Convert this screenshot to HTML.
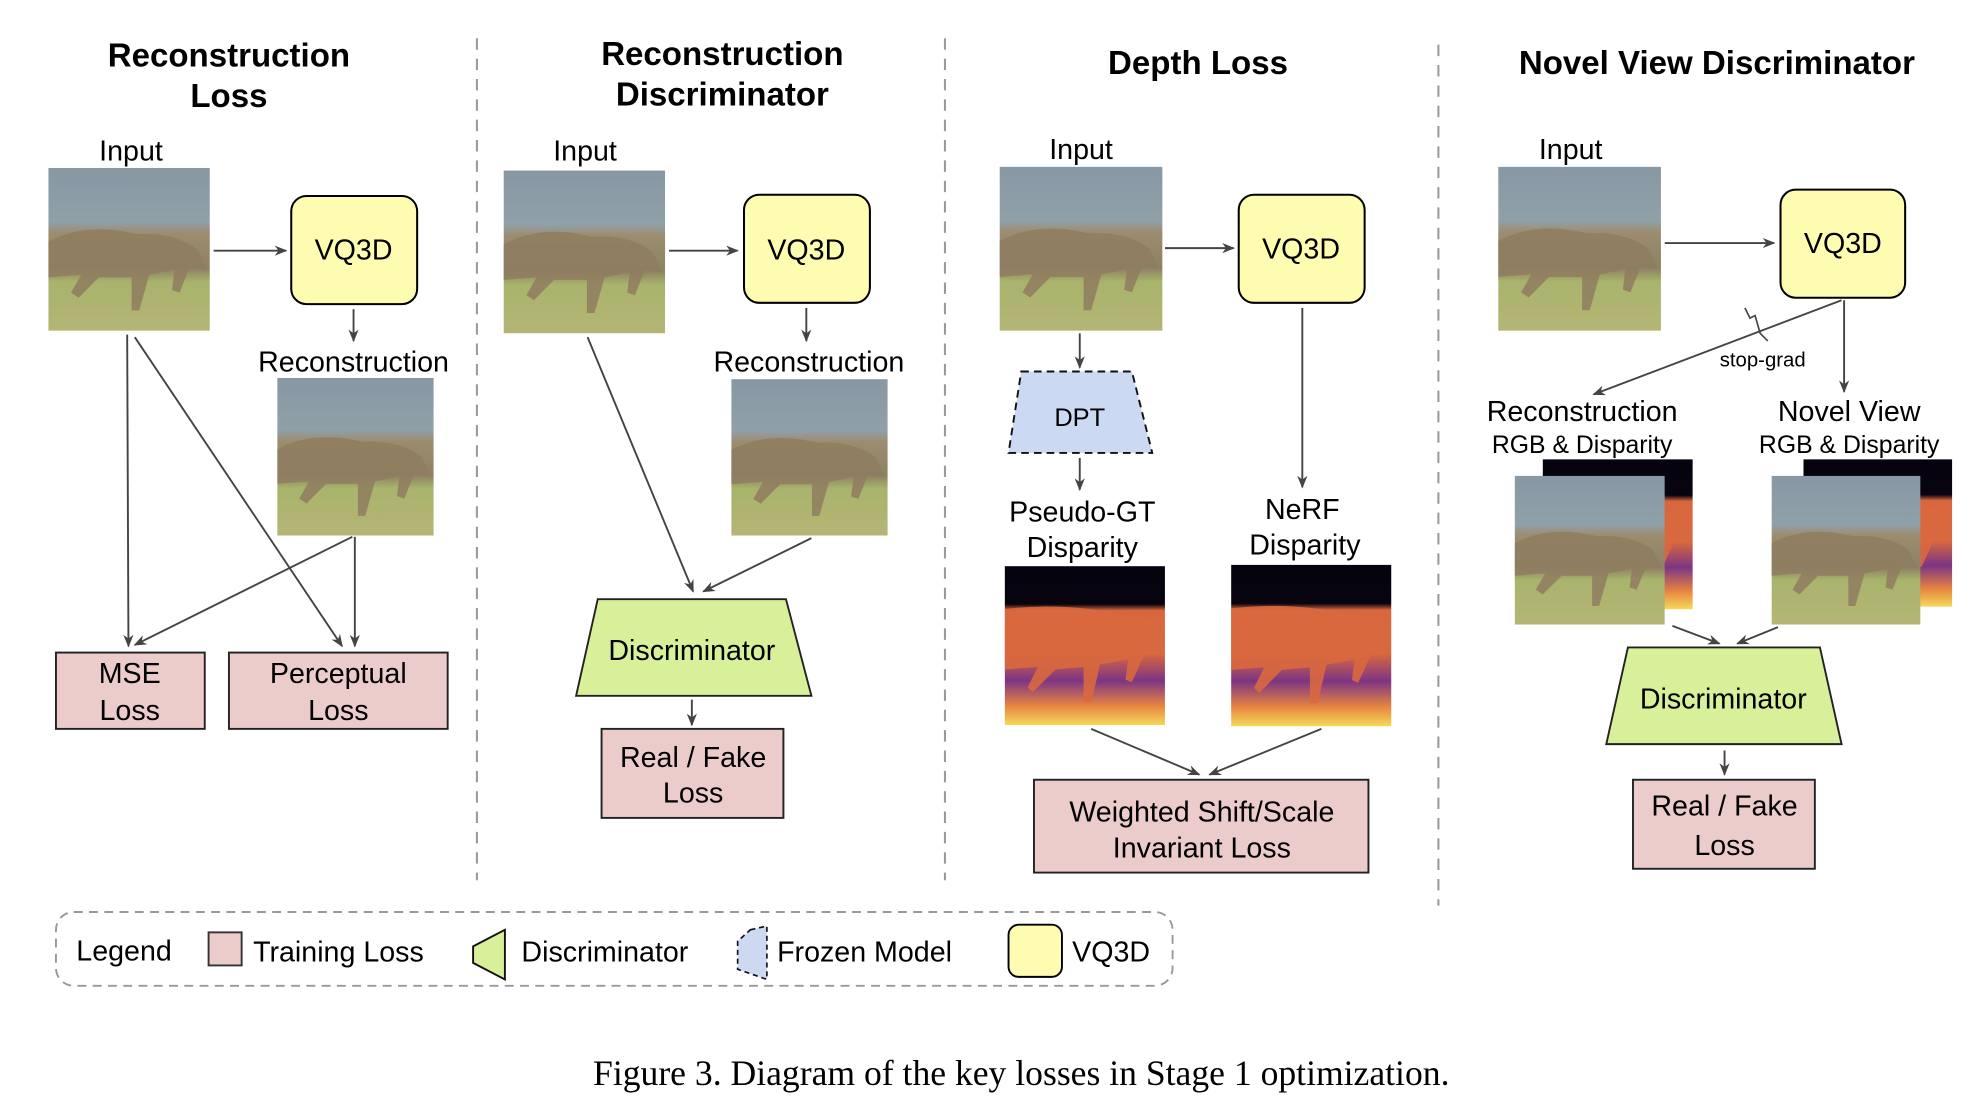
<!DOCTYPE html>
<html><head><meta charset="utf-8"><style>
html,body{margin:0;padding:0;background:#fff;}
svg{display:block;}
text{font-family:"Liberation Sans",sans-serif;fill:#000;}
</style></head><body>
<svg width="1984" height="1108" viewBox="0 0 1560 871" xmlns="http://www.w3.org/2000/svg">
<defs>
<marker id="ah" markerWidth="10" markerHeight="10" refX="9" refY="5" orient="auto" markerUnits="userSpaceOnUse">
<path d="M0,1 L10,5 L0,9 L3,5 z" fill="#444"/></marker>
<linearGradient id="wolf" x1="0" y1="0" x2="0" y2="1">
<stop offset="0" stop-color="#8798a4"/><stop offset="0.33" stop-color="#8fa0a8"/>
<stop offset="0.4" stop-color="#9d8c70"/><stop offset="0.62" stop-color="#8e8262"/>
<stop offset="0.7" stop-color="#a8b46c"/><stop offset="1" stop-color="#b5b575"/></linearGradient>
<linearGradient id="disp" x1="0" y1="0" x2="0" y2="1">
<stop offset="0" stop-color="#05030f"/><stop offset="0.24" stop-color="#08040f"/>
<stop offset="0.28" stop-color="#d8673e"/><stop offset="0.55" stop-color="#d8683f"/>
<stop offset="0.72" stop-color="#7c3584"/><stop offset="0.88" stop-color="#e7853f"/>
<stop offset="1" stop-color="#f6d95a"/></linearGradient>
<symbol id="wimg" viewBox="0 0 128 128" preserveAspectRatio="none">
<rect width="128" height="128" fill="url(#wolf)"/>
<path d="M0,58 Q30,42 70,52 Q100,50 118,64 L126,80 L112,78 L104,98 L98,96 L100,80 L80,84 L72,112 L66,112 L66,86 L40,86 L24,102 L18,98 L26,84 L0,86 z" fill="#8f7d60" opacity="0.85"/>
</symbol>
<symbol id="dimg" viewBox="0 0 126 126" preserveAspectRatio="none">
<rect width="126" height="126" fill="url(#disp)"/>
<path d="M0,34 Q50,28 100,40 L118,44 L120,70 L110,70 L100,92 L95,90 L97,74 L75,78 L68,108 L62,108 L62,80 L40,82 L22,100 L18,96 L26,80 L0,82 z" fill="#d9683f" opacity="0.9"/>
</symbol>
</defs>

<g stroke="#999" stroke-width="1.6" stroke-dasharray="9,7">
<line x1="375" y1="30" x2="375" y2="692"/>
<line x1="743" y1="30" x2="743" y2="692"/>
<line x1="1131" y1="35" x2="1131" y2="712"/>
</g>

<g font-weight="bold" font-size="26" text-anchor="middle">
<text x="180" y="52">Reconstruction</text><text x="180" y="84">Loss</text>
<text x="568" y="51">Reconstruction</text><text x="568" y="83">Discriminator</text>
<text x="942" y="58">Depth Loss</text>
<text x="1350" y="58">Novel View Discriminator</text>
</g>

<g font-size="22.5" text-anchor="middle">
<text x="103" y="126">Input</text>
<use href="#wimg" x="38" y="132" width="127" height="128"/>
<rect x="229" y="154" width="99" height="85" rx="12" fill="#fefcb1" stroke="#000" stroke-width="1.6"/>
<text x="278" y="204">VQ3D</text>
<text x="278" y="292">Reconstruction</text>
<use href="#wimg" x="218" y="297" width="123" height="124"/>
<rect x="44" y="513" width="117" height="60" fill="#ecccca" stroke="#222" stroke-width="1.5"/>
<text x="102" y="537">MSE</text><text x="102" y="566">Loss</text>
<rect x="180" y="513" width="172" height="60" fill="#ecccca" stroke="#222" stroke-width="1.5"/>
<text x="266" y="537">Perceptual</text><text x="266" y="566">Loss</text>

<text x="460" y="126">Input</text>
<use href="#wimg" x="396" y="134" width="127" height="128"/>
<rect x="585" y="153" width="99" height="85" rx="12" fill="#fefcb1" stroke="#000" stroke-width="1.6"/>
<text x="634" y="204">VQ3D</text>
<text x="636" y="292">Reconstruction</text>
<use href="#wimg" x="575" y="298" width="123" height="123"/>
<polygon points="470,471 618,471 638,547 453,547" fill="#d9f09b" stroke="#222" stroke-width="1.5"/>
<text x="544" y="519">Discriminator</text>
<rect x="473" y="573" width="143" height="70" fill="#ecccca" stroke="#222" stroke-width="1.5"/>
<text x="545" y="603">Real / Fake</text><text x="545" y="631">Loss</text>

<text x="850" y="125">Input</text>
<use href="#wimg" x="786" y="131" width="128" height="129"/>
<rect x="974" y="153" width="99" height="85" rx="12" fill="#fefcb1" stroke="#000" stroke-width="1.6"/>
<text x="1023" y="203">VQ3D</text>
<polygon points="803,292 890,292 906,356 793,356" fill="#cbd9f3" stroke="#111" stroke-width="1.5" stroke-dasharray="6,4"/>
<text x="849" y="335" font-size="20">DPT</text>
<text x="851" y="410">Pseudo-GT</text><text x="851" y="438">Disparity</text>
<use href="#dimg" x="790" y="445" width="126" height="125"/>
<text x="1024" y="408">NeRF</text><text x="1026" y="436">Disparity</text>
<use href="#dimg" x="968" y="444" width="126" height="127"/>
<rect x="813" y="613" width="263" height="73" fill="#ecccca" stroke="#222" stroke-width="1.5"/>
<text x="945" y="646">Weighted Shift/Scale</text><text x="945" y="674">Invariant Loss</text>

<text x="1235" y="125">Input</text>
<use href="#wimg" x="1178" y="131" width="128" height="129"/>
<rect x="1400" y="149" width="98" height="85" rx="12" fill="#fefcb1" stroke="#000" stroke-width="1.6"/>
<text x="1449" y="199">VQ3D</text>
<text x="1386" y="288" font-size="16">stop-grad</text>
<path d="M1372,242 L1376,250 L1380,248 L1384,262 L1390,268" fill="none" stroke="#444" stroke-width="1.3"/>
<text x="1244" y="331">Reconstruction</text><text x="1244" y="356" font-size="19.5">RGB &amp; Disparity</text>
<text x="1454" y="331">Novel View</text><text x="1454" y="356" font-size="19.5">RGB &amp; Disparity</text>
<use href="#dimg" x="1213" y="361" width="118" height="118"/>
<use href="#wimg" x="1191" y="374" width="118" height="117"/>
<use href="#dimg" x="1418" y="361" width="117" height="116"/>
<use href="#wimg" x="1393" y="374" width="117" height="117"/>
<polygon points="1280,509 1431,509 1448,585 1263,585" fill="#d9f09b" stroke="#222" stroke-width="1.5"/>
<text x="1355" y="557">Discriminator</text>
<rect x="1284" y="613" width="143" height="70" fill="#ecccca" stroke="#222" stroke-width="1.5"/>
<text x="1356" y="641">Real / Fake</text><text x="1356" y="672">Loss</text>
</g>

<g stroke="#444" stroke-width="1.5" fill="none" marker-end="url(#ah)">
<line x1="168" y1="197" x2="225" y2="197"/>
<line x1="278" y1="243" x2="278" y2="268"/>
<line x1="100" y1="263" x2="101" y2="508"/>
<line x1="106" y1="265" x2="269" y2="508"/>
<line x1="277" y1="422" x2="106" y2="507"/>
<line x1="279" y1="422" x2="279" y2="508"/>
<line x1="526" y1="197" x2="580" y2="197"/>
<line x1="634" y1="242" x2="634" y2="268"/>
<line x1="462" y1="265" x2="545" y2="465"/>
<line x1="638" y1="423" x2="553" y2="465"/>
<line x1="544" y1="550" x2="544" y2="570"/>
<line x1="916" y1="195" x2="970" y2="195"/>
<line x1="849" y1="262" x2="849" y2="289"/>
<line x1="849" y1="360" x2="849" y2="385"/>
<line x1="1024" y1="242" x2="1024" y2="383"/>
<line x1="858" y1="573" x2="943" y2="609"/>
<line x1="1039" y1="573" x2="951" y2="609"/>
<line x1="1309" y1="191" x2="1395" y2="191"/>
<line x1="1448" y1="236" x2="1253" y2="310"/>
<line x1="1450" y1="236" x2="1450" y2="308"/>
<line x1="1315" y1="492" x2="1352" y2="506"/>
<line x1="1398" y1="493" x2="1366" y2="506"/>
<line x1="1356" y1="590" x2="1356" y2="609"/>
</g>

<rect x="44" y="717" width="878" height="58" rx="14" fill="none" stroke="#999" stroke-width="1.5" stroke-dasharray="7,5"/>
<g font-size="22.5">
<text x="60" y="755">Legend</text>
<rect x="164" y="733" width="26" height="26" fill="#ecccca" stroke="#333" stroke-width="1.5"/>
<text x="199" y="756">Training Loss</text>
<polygon points="397,731 397,770 372,757 372,744" fill="#d9f09b" stroke="#111" stroke-width="1.5"/>
<text x="410" y="756">Discriminator</text>
<polygon points="590,731 603,728 603,770 580,762 580,740" fill="#cbd9f3" stroke="#111" stroke-width="1.3" stroke-dasharray="4,3"/>
<text x="611" y="756">Frozen Model</text>
<rect x="793" y="727" width="42" height="41" rx="8" fill="#fefcb1" stroke="#000" stroke-width="1.5"/>
<text x="843" y="756">VQ3D</text>
</g>

<text x="803" y="853" text-anchor="middle" font-size="28" style="font-family:'Liberation Serif',serif">Figure 3. Diagram of the key losses in Stage 1 optimization.</text>
</svg>
</body></html>
